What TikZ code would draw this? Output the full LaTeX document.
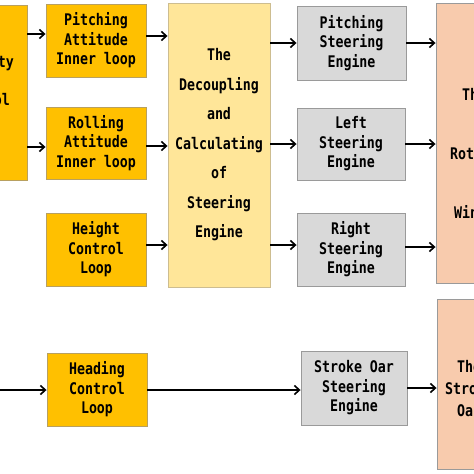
\documentclass[tikz,border=0pt]{standalone}
\usepackage{fontspec}
\newfontfamily\boxfont[FakeStretch=0.83]{DejaVu Sans Mono}
\usetikzlibrary{arrows.meta}
\definecolor{gold}{HTML}{FFC000}
\definecolor{goldline}{HTML}{B8A060}
\definecolor{paleyellow}{HTML}{FFE699}
\definecolor{greyfill}{HTML}{D9D9D9}
\definecolor{greyline}{HTML}{9A9A9A}
\definecolor{salmon}{HTML}{F8CBAD}
\tikzset{
  base/.style={draw, line width=0.9pt, inner sep=0pt, align=center,
    font=\boxfont\bfseries\fontsize{16}{19.5}\selectfont},
  loopbox/.style={base, fill=gold, draw=goldline},
  calcbox/.style={base, fill=paleyellow, draw=goldline!70!white},
  enginebox/.style={base, fill=greyfill, draw=greyline},
  plantbox/.style={base, fill=salmon, draw=greyline},
  txt/.style={align=center, inner sep=0pt, font=\boxfont\bfseries\fontsize{16}{19.5}\selectfont},
  arr/.style={line width=1.6pt, -{Straight Barb[length=5pt,width=9pt,line width=1.6pt]}},
}
\begin{document}
\begin{tikzpicture}[x=1pt,y=-1pt]
\useasboundingbox (0,0) rectangle (474,474);
\clip (0,0) rectangle (474,474);
\fill[white] (0,0) rectangle (474,474);
% left partial box
\node[loopbox, minimum width=87pt, minimum height=175pt] (L) at (-16.5,92.5) {};
\node[txt, font=\boxfont\bfseries\fontsize{16}{38}\selectfont] (Lt) at (-18,80) {Velocity\\Control};
% loop boxes
\node[loopbox, minimum width=100pt, minimum height=73pt] (PA) at (96,40.5) {Pitching\\Attitude\\Inner loop};
\node[loopbox, minimum width=100pt, minimum height=72pt] (RA) at (96,143) {Rolling\\Attitude\\Inner loop};
\node[loopbox, minimum width=100pt, minimum height=73pt] (HC) at (96,249.5) {Height\\Control\\Loop};
\node[loopbox, minimum width=100pt, minimum height=73pt] (HD) at (97,389.5) {Heading\\Control\\Loop};
% decoupling
\node[calcbox, minimum width=102pt, minimum height=284pt,
  font=\boxfont\bfseries\fontsize{16}{29.5}\selectfont] (DC) at (219,145)
  {The\\Decoupling\\and\\Calculating\\of\\Steering\\Engine};
% engines
\node[enginebox, minimum width=109pt, minimum height=74pt] (PS) at (351.5,43) {Pitching\\Steering\\Engine};
\node[enginebox, minimum width=108pt, minimum height=72pt] (LS) at (351,144) {Left\\Steering\\Engine};
\node[enginebox, minimum width=108pt, minimum height=73pt] (RS) at (351,249.5) {Right\\Steering\\Engine};
\node[enginebox, minimum width=106pt, minimum height=74pt] (SO) at (354,388) {Stroke Oar\\Steering\\Engine};
% plants
\node[plantbox, minimum width=76pt, minimum height=280pt] (R1) at (474,143) {};
\node[txt, font=\boxfont\bfseries\fontsize{16}{59}\selectfont] (R1t) at (474,155) {The\\Rotary\\Wings};
\node[plantbox, minimum width=76pt, minimum height=170pt] (R2) at (475,384) {};
\node[txt, font=\boxfont\bfseries\fontsize{16}{22}\selectfont] (R2t) at (469,389) {The\\Stroke\\Oar};
% arrows
\draw[arr] (L.east |- 0,34) -- (PA.west |- 0,34);
\draw[arr] (L.east |- 0,147) -- (RA.west |- 0,147);
\draw[arr] (PA.east |- 0,36) -- (DC.west |- 0,36);
\draw[arr] (RA.east |- 0,146) -- (DC.west |- 0,146);
\draw[arr] (HC.east |- 0,245) -- (DC.west |- 0,245);
\draw[arr] (DC.east |- 0,43) -- (PS.west |- 0,43);
\draw[arr] (DC.east |- 0,144) -- (LS.west |- 0,144);
\draw[arr] (DC.east |- 0,245) -- (RS.west |- 0,245);
\draw[arr] (PS.east |- 0,43) -- (R1.west |- 0,43);
\draw[arr] (LS.east |- 0,144) -- (R1.west |- 0,144);
\draw[arr] (RS.east |- 0,247) -- (R1.west |- 0,247);
\coordinate (in) at (-5,390);
\draw[arr] (in) -- (HD.west |- 0,390);
\draw[arr] (HD.east |- 0,390) -- (SO.west |- 0,390);
\draw[arr] (SO.east |- 0,388) -- (R2.west |- 0,388);
\end{tikzpicture}
\end{document}
